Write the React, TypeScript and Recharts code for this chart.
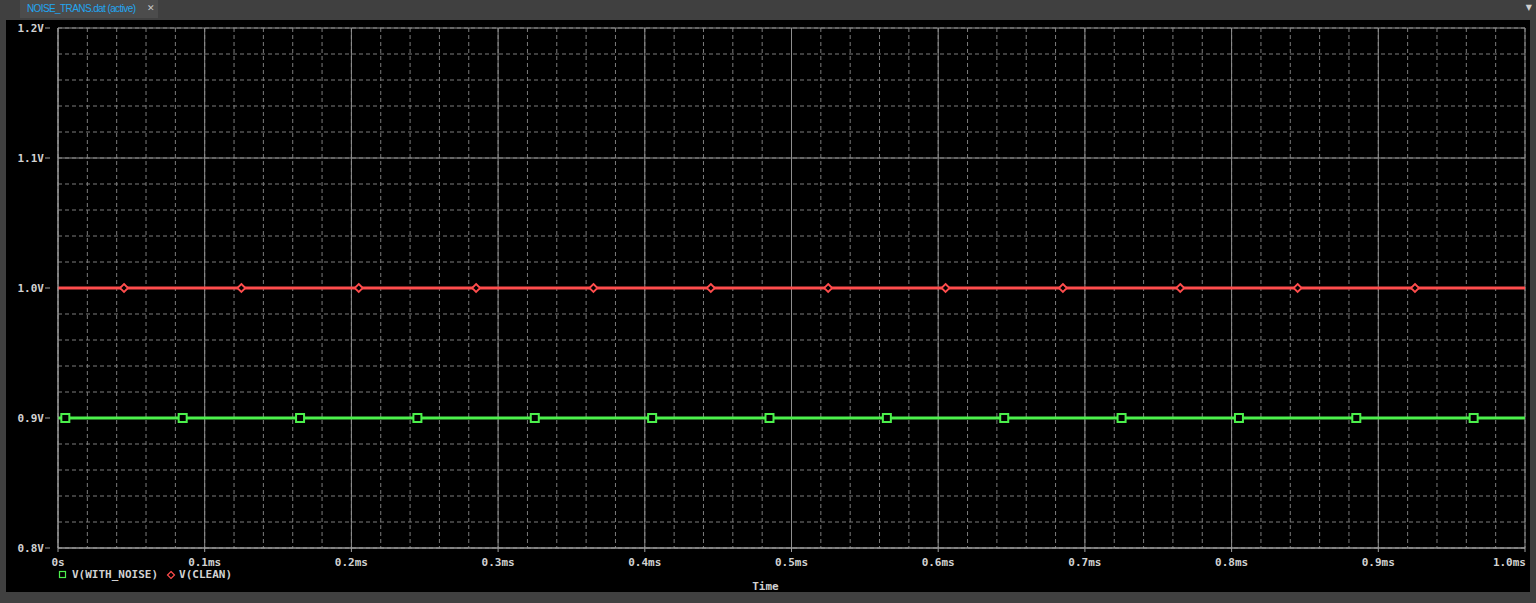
import React from "react";
import { LineChart, Line, XAxis, YAxis, CartesianGrid, ReferenceLine, Legend } from "recharts";

// time axis (ms)
const xTicks = [
  0, 0.02, 0.04, 0.06, 0.08, 0.1, 0.12, 0.14, 0.16, 0.18, 0.2, 0.22, 0.24, 0.26, 0.28, 0.3, 0.32, 0.34, 0.36,
  0.38, 0.4, 0.42, 0.44, 0.46, 0.48, 0.5, 0.52, 0.54, 0.56, 0.58, 0.6, 0.62, 0.64, 0.66, 0.68, 0.7, 0.72, 0.74,
  0.76, 0.78, 0.8, 0.82, 0.84, 0.86, 0.88, 0.9, 0.92, 0.94, 0.96, 0.98, 1.0,
];
const xMajor = [0, 0.1, 0.2, 0.3, 0.4, 0.5, 0.6, 0.7, 0.8, 0.9, 1.0];

// voltage axis (V)
const yTicks = [
  0.8, 0.82, 0.84, 0.86, 0.88, 0.9, 0.92, 0.94, 0.96, 0.98, 1.0, 1.02, 1.04, 1.06, 1.08, 1.1, 1.12, 1.14, 1.16,
  1.18, 1.2,
];
const yMajor = [0.8, 0.9, 1.0, 1.1, 1.2];

// marker positions of each trace
const noiseMarkers = [0.005, 0.085, 0.165, 0.245, 0.325, 0.405, 0.485, 0.565, 0.645, 0.725, 0.805, 0.885, 0.965];
const cleanMarkers = [0.045, 0.125, 0.205, 0.285, 0.365, 0.445, 0.525, 0.605, 0.685, 0.765, 0.845, 0.925];

const withNoiseLevel = 0.9;
const cleanLevel = 1.0;

const times = Array.from(new Set([0, ...noiseMarkers, ...cleanMarkers, 1.0])).sort((a, b) => a - b);
const data = times.map((t) => ({ time: t, withNoise: withNoiseLevel, clean: cleanLevel }));

const GREEN = "#4cf04c";
const RED = "#ff4d4d";
const TXT = "#d2d2d2";
const MONO = "'DejaVu Sans Mono', monospace";

const isMajor = (v: number) => Math.abs(v * 10 - Math.round(v * 10)) < 1e-6;

function XTick({ x, y, payload }: any) {
  const v = payload.value;
  if (!isMajor(v)) return <g />;
  const label = v === 0 ? "0s" : v.toFixed(1) + "ms";
  const last = Math.abs(v - 1) < 1e-6;
  return (
    <g>
      <line x1={x} y1={y - 8} x2={x} y2={y - 4} stroke="#a0a0a0" />
      <text x={last ? x + 1 : x} y={y + 10} textAnchor={last ? "end" : "middle"} fill={TXT} fontFamily={MONO} fontSize={11} fontWeight="bold">
        {label}
      </text>
    </g>
  );
}

function YTick({ x, y, payload }: any) {
  const v = payload.value;
  if (!isMajor(v)) return <g />;
  return (
    <g>
      <line x1={x - 5} y1={y} x2={x} y2={y} stroke="#a0a0a0" />
      <text x={x - 6} y={y + 4} textAnchor="end" fill={TXT} fontFamily={MONO} fontSize={11} fontWeight="bold">
        {v.toFixed(1) + "V"}
      </text>
    </g>
  );
}

const hit = (list: number[], t: number) => list.some((m) => Math.abs(m - t) < 1e-9);

function NoiseDot(props: any) {
  const { cx, cy, payload, index } = props;
  if (!hit(noiseMarkers, payload.time)) return <g key={"n" + index} />;
  return <rect key={"n" + index} x={cx - 4} y={cy - 4} width={8} height={8} fill="#000" stroke={GREEN} strokeWidth={2} />;
}

function CleanDot(props: any) {
  const { cx, cy, payload, index } = props;
  if (!hit(cleanMarkers, payload.time)) return <g key={"c" + index} />;
  return (
    <path
      key={"c" + index}
      d={`M${cx},${cy - 4} L${cx + 4},${cy} L${cx},${cy + 4} L${cx - 4},${cy} Z`}
      fill="#000"
      stroke={RED}
      strokeWidth={1.8}
    />
  );
}

function LegendBox() {
  return (
    <div style={{ position: "relative", height: 24, fontFamily: MONO, fontSize: 11, fontWeight: "bold", color: TXT }}>
      <div style={{ position: "absolute", left: 52, top: 0, display: "flex", alignItems: "center", height: 13 }}>
        <svg width={10} height={10} style={{ marginRight: 4 }}>
          <rect x={1.5} y={1.5} width={6} height={6} fill="none" stroke={GREEN} strokeWidth={1.2} />
        </svg>
        <span>V(WITH_NOISE)</span>
        <svg width={10} height={10} style={{ marginLeft: 8, marginRight: 3 }}>
          <path d="M5,1.5 L8.5,5 L5,8.5 L1.5,5 Z" fill="none" stroke={RED} strokeWidth={1.2} />
        </svg>
        <span>V(CLEAN)</span>
      </div>
      <div style={{ position: "absolute", left: 0, right: 0, top: 12, textAlign: "center" }}>Time</div>
    </div>
  );
}

export default function App() {
  return (
    <div style={{ position: "fixed", left: 0, top: 0, width: 1536, height: 603, background: "#404040", overflow: "hidden" }}>
      <div style={{ position: "absolute", left: 20, top: 0, width: 138, height: 18, background: "#4c4c4c" }}>
        <span
          style={{
            position: "absolute",
            left: 7,
            top: 3,
            color: "#22a6f0",
            fontFamily: "'Liberation Sans', sans-serif",
            fontSize: 10,
            letterSpacing: -0.6,
            whiteSpace: "nowrap",
          }}
        >
          NOISE_TRANS.dat (active)
        </span>
        <span style={{ position: "absolute", left: 127, top: 3, color: "#c8c8c8", fontFamily: "'DejaVu Sans', sans-serif", fontSize: 9 }}>
          ✕
        </span>
      </div>
      <div style={{ position: "absolute", right: 4, top: 3, color: "#d0d0d0", fontSize: 8, fontFamily: "'DejaVu Sans', sans-serif" }}>▼</div>
      <div style={{ position: "absolute", left: 6, top: 20, width: 1524, height: 572, background: "#000" }}>
        <LineChart width={1524} height={572} data={data} margin={{ top: 8, right: 5, bottom: 0, left: 0 }}>
          <CartesianGrid stroke="#7c7c7c" strokeDasharray="4 3" />
          <XAxis
            dataKey="time"
            type="number"
            domain={[0, 1]}
            ticks={xTicks}
            interval={0}
            height={20}
            tick={<XTick />}
            tickLine={false}
            axisLine={{ stroke: "#a0a0a0" }}
          />
          <YAxis
            type="number"
            domain={[0.8, 1.2]}
            ticks={yTicks}
            interval={0}
            width={52}
            tick={<YTick />}
            tickLine={false}
            axisLine={{ stroke: "#a0a0a0" }}
          />
          {xMajor.map((v) => (
            <ReferenceLine key={"vx" + v} x={v} stroke="#8e8e8e" strokeWidth={1} />
          ))}
          {yMajor.map((v) => (
            <ReferenceLine key={"hy" + v} y={v} stroke="#8e8e8e" strokeWidth={1} />
          ))}
          <Legend verticalAlign="bottom" height={24} content={<LegendBox />} />
          <Line dataKey="withNoise" name="V(WITH_NOISE)" stroke={GREEN} strokeWidth={3} dot={NoiseDot} activeDot={false} isAnimationActive={false} />
          <Line dataKey="clean" name="V(CLEAN)" stroke={RED} strokeWidth={3} dot={CleanDot} activeDot={false} isAnimationActive={false} />
        </LineChart>
      </div>
    </div>
  );
}
